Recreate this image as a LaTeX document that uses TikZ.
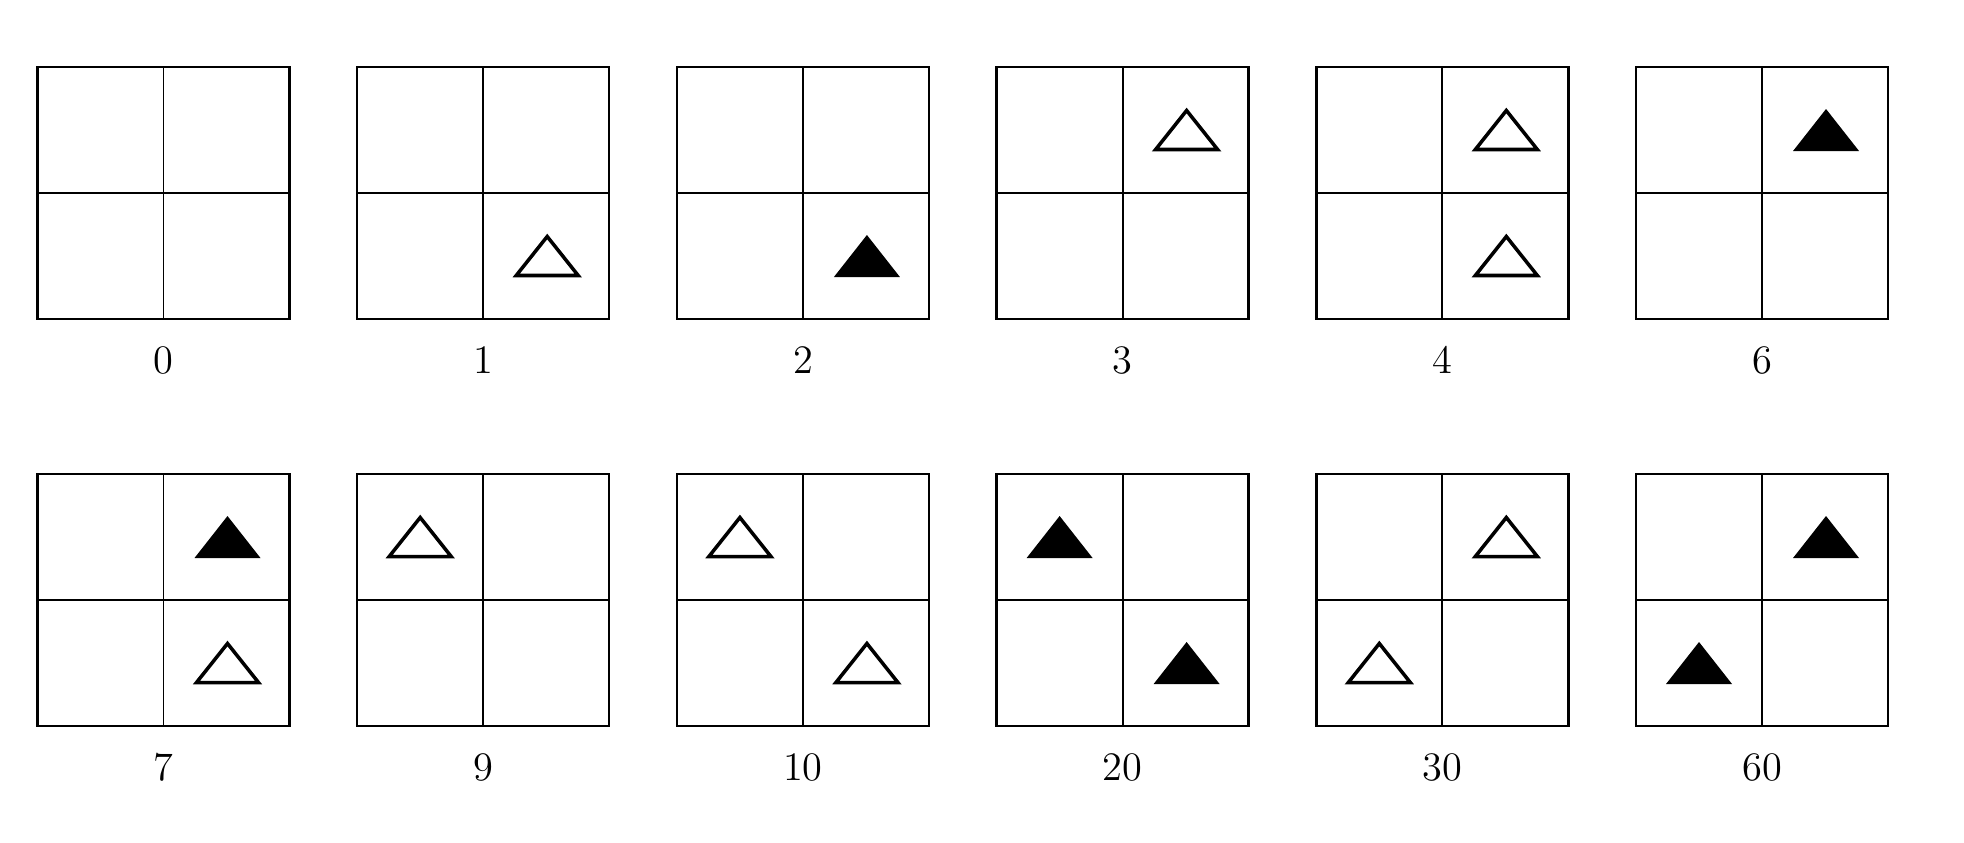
\documentclass[tikz,border=0pt]{standalone}
\newcommand{\cornertri}[3]{%
  \ifnum#3=1 \draw[line width=1pt] (#1-0.31,#2-0.195)--(#1+0.31,#2-0.195)--(#1,#2+0.195)--cycle;\fi
  \ifnum#3=2 \fill (#1-0.33,#2-0.21)--(#1+0.33,#2-0.21)--(#1,#2+0.21)--cycle;\fi}
\begin{document}
\begin{tikzpicture}[line width=0.7pt]
\useasboundingbox (0,0) rectangle (19.64,8.42);
\foreach \n [count=\i from 0] in {0,1,2,3,4,6,7,9,10,20,30,60}{
  \pgfmathsetmacro\bx{0.375+3.197*mod(\i,6)}
  \pgfmathsetmacro\by{\i<6 ? 5.23 : 1.16}
  \pgfmathtruncatemacro\lr{mod(\n,3)}
  \pgfmathtruncatemacro\ur{mod(int(\n/3),3)}
  \pgfmathtruncatemacro\ul{mod(int(\n/9),3)}
  \pgfmathtruncatemacro\ll{int(\n/27)}
  \begin{scope}[shift={(\bx,\by)}]
  \draw (0,0) rectangle (2.52,2.52);
  \draw[line width=0.55pt] (1.26,0)--(1.26,2.52) (0,1.26)--(2.52,1.26);
  \node[font=\fontsize{11.5}{13}\selectfont] (lab\i) at (1.26,-0.41) {\n};
  \cornertri{1.9}{0.63}{\lr}
  \cornertri{1.9}{1.89}{\ur}
  \cornertri{0.63}{1.89}{\ul}
  \cornertri{0.63}{0.63}{\ll}
  \end{scope}
}
\end{tikzpicture}
\end{document}
